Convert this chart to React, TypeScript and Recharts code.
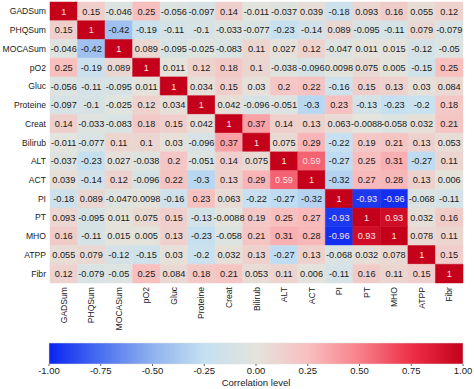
import { ReferenceArea, Scatter, ScatterChart, XAxis, YAxis } from "recharts";

const variables = [
  "GADSum", "PHQSum", "MOCASum", "pO2", "Gluc", "Proteine", "Creat", "Bilirub",
  "ALT", "ACT", "PI", "PT", "MHO", "ATPP", "Fibr"
];

const gadSum = [1, 0.15, -0.046, 0.25, -0.056, -0.097, 0.14, -0.011, -0.037, 0.039, -0.18, 0.093, 0.16, 0.055, 0.12];
const phqSum = [0.15, 1, -0.42, -0.19, -0.11, -0.1, -0.033, -0.077, -0.23, -0.14, 0.089, -0.095, -0.11, 0.079, -0.079];
const mocaSum = [-0.046, -0.42, 1, 0.089, -0.095, -0.025, -0.083, 0.11, 0.027, 0.12, -0.047, 0.011, 0.015, -0.12, -0.05];
const po2 = [0.25, -0.19, 0.089, 1, 0.011, 0.12, 0.18, 0.1, -0.038, -0.096, 0.0098, 0.075, 0.005, -0.15, 0.25];
const gluc = [-0.056, -0.11, -0.095, 0.011, 1, 0.034, 0.15, 0.03, 0.2, 0.22, -0.16, 0.15, 0.13, 0.03, 0.084];
const proteine = [-0.097, -0.1, -0.025, 0.12, 0.034, 1, 0.042, -0.096, -0.051, -0.3, 0.23, -0.13, -0.23, -0.2, 0.18];
const creat = [0.14, -0.033, -0.083, 0.18, 0.15, 0.042, 1, 0.37, 0.14, 0.13, 0.063, -0.0088, -0.058, 0.032, 0.21];
const bilirub = [-0.011, -0.077, 0.11, 0.1, 0.03, -0.096, 0.37, 1, 0.075, 0.29, -0.22, 0.19, 0.21, 0.13, 0.053];
const alt = [-0.037, -0.23, 0.027, -0.038, 0.2, -0.051, 0.14, 0.075, 1, 0.59, -0.27, 0.25, 0.31, -0.27, 0.11];
const act = [0.039, -0.14, 0.12, -0.096, 0.22, -0.3, 0.13, 0.29, 0.59, 1, -0.32, 0.27, 0.28, 0.13, 0.006];
const pi = [-0.18, 0.089, -0.047, 0.0098, -0.16, 0.23, 0.063, -0.22, -0.27, -0.32, 1, -0.93, -0.96, -0.068, -0.11];
const pt = [0.093, -0.095, 0.011, 0.075, 0.15, -0.13, -0.0088, 0.19, 0.25, 0.27, -0.93, 1, 0.93, 0.032, 0.16];
const mho = [0.16, -0.11, 0.015, 0.005, 0.13, -0.23, -0.058, 0.21, 0.31, 0.28, -0.96, 0.93, 1, 0.078, 0.11];
const atpp = [0.055, 0.079, -0.12, -0.15, 0.03, -0.2, 0.032, 0.13, -0.27, 0.13, -0.068, 0.032, 0.078, 1, 0.15];
const fibr = [0.12, -0.079, -0.05, 0.25, 0.084, 0.18, 0.21, 0.053, 0.11, 0.006, -0.11, 0.16, 0.11, 0.15, 1];

const rows = [gadSum, phqSum, mocaSum, po2, gluc, proteine, creat, bilirub, alt, act, pi, pt, mho, atpp, fibr];

const colorbarTicks = [-1, -0.75, -0.5, -0.25, 0, 0.25, 0.5, 0.75, 1];

// colormap: blue -> pale grey -> red
const stops: Array<[number, string]> = [
  [-1, "#0a23f0"],
  [-0.75, "#4b70f0"],
  [-0.5, "#8fb2ee"],
  [-0.25, "#c4e0f2"],
  [0, "#e3e4dc"],
  [0.25, "#f8bfbf"],
  [0.5, "#f8808a"],
  [0.75, "#ee3048"],
  [1, "#c4001a"]
];

const font = "'Liberation Sans', Arial, sans-serif";

function hex(c: string) {
  return [1, 3, 5].map((i) => parseInt(c.slice(i, i + 2), 16));
}

function colorFor(v: number) {
  for (let i = 0; i < stops.length - 1; i++) {
    const [a, ca] = stops[i];
    const [b, cb] = stops[i + 1];
    if (v >= a && v <= b) {
      const t = (v - a) / (b - a);
      const x = hex(ca);
      const y = hex(cb);
      const m = x.map((val, k) => Math.round(val + (y[k] - val) * t));
      return `rgb(${m[0]},${m[1]},${m[2]})`;
    }
  }
  return stops[stops.length - 1][1];
}

const cells = rows.flatMap((row, r) => row.map((value, c) => ({ x: c, y: r, value })));
const ticks = variables.map((_, i) => i);

function XTick({ x, y, payload }: any) {
  return (
    <text
      x={x}
      y={y}
      transform={`rotate(-90, ${x}, ${y})`}
      textAnchor="end"
      dominantBaseline="central"
      fontSize={8.6}
      fill="#1a1a1a"
    >
      {variables[payload.value]}
    </text>
  );
}

function Heatmap() {
  return (
    <ScatterChart width={474} height={340} margin={{ top: 2, right: 11, bottom: 0, left: 0 }}>
      <XAxis
        type="number"
        dataKey="x"
        domain={[-0.5, 14.5]}
        ticks={ticks}
        interval={0}
        tick={<XTick />}
        tickLine={false}
        axisLine={false}
        tickSize={0}
        tickMargin={4}
        height={57}
      />
      <YAxis
        type="number"
        dataKey="y"
        domain={[-0.5, 14.5]}
        reversed
        ticks={ticks}
        interval={0}
        tickFormatter={(v) => variables[v]}
        tick={{ fontSize: 8.6, fill: "#1a1a1a" }}
        tickLine={false}
        axisLine={false}
        tickSize={0}
        tickMargin={4}
        width={50}
      />
      {cells.map((d) => (
        <ReferenceArea
          key={`${d.x}-${d.y}`}
          x1={d.x - 0.5}
          x2={d.x + 0.5}
          y1={d.y - 0.5}
          y2={d.y + 0.5}
          fill={colorFor(d.value)}
          fillOpacity={1}
          stroke={colorFor(d.value)}
          strokeWidth={0.5}
          label={{
            value: String(d.value),
            position: "center",
            fontSize: 9.2,
            fill: Math.abs(d.value) > 0.5 ? "#fbe2e2" : "#1a1a1a"
          }}
        />
      ))}
      <Scatter data={cells} fill="none" shape={() => <g />} isAnimationActive={false} />
    </ScatterChart>
  );
}

function Colorbar() {
  return (
    <ScatterChart width={474} height={54} margin={{ top: 8, right: 11, bottom: 0, left: 49 }}>
      <defs>
        <linearGradient id="cbar" x1="0" y1="0" x2="1" y2="0">
          {stops.map(([v, c]) => (
            <stop key={v} offset={`${((v + 1) / 2) * 100}%`} stopColor={c} />
          ))}
        </linearGradient>
      </defs>
      <XAxis
        type="number"
        dataKey="x"
        domain={[-1, 1]}
        ticks={colorbarTicks}
        interval={0}
        tickFormatter={(v) => Number(v).toFixed(2)}
        tick={{ fontSize: 9.5, fill: "#1a1a1a" }}
        tickSize={2}
        tickMargin={1}
        tickLine={{ stroke: "#666" }}
        axisLine={false}
        height={25}
        label={{ value: "Correlation level", position: "insideBottom", offset: 3, fontSize: 9.5, fill: "#1a1a1a" }}
      />
      <YAxis type="number" dataKey="y" domain={[0, 1]} hide />
      <ReferenceArea x1={-1} x2={1} y1={0} y2={1} fill="url(#cbar)" fillOpacity={1} stroke="#ddd" strokeWidth={0.5} />
      <Scatter data={colorbarTicks.map((x) => ({ x, y: 0.5 }))} fill="none" shape={() => <g />} isAnimationActive={false} />
    </ScatterChart>
  );
}

export default function App() {
  return (
    <div style={{ position: "fixed", left: 0, top: 0, width: 474, height: 389, background: "#fff", fontFamily: font }}>
      <Heatmap />
      <div style={{ position: "absolute", left: 0, top: 335 }}>
        <Colorbar />
      </div>
    </div>
  );
}
